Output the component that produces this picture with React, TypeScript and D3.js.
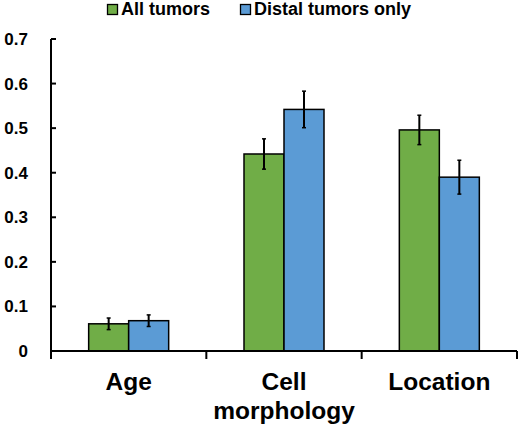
import * as d3 from "d3";

const categories = [["Age"], ["Cell", "morphology"], ["Location"]];
const seriesNames = ["All tumors", "Distal tumors only"];
const seriesColors = ["#70ad47", "#5b9bd5"];
const allTumors = [0.061, 0.442, 0.496];
const allTumorsErr = [0.013, 0.034, 0.033];
const distalTumors = [0.068, 0.542, 0.39];
const distalTumorsErr = [0.013, 0.041, 0.038];
const yTicks = [0, 0.1, 0.2, 0.3, 0.4, 0.5, 0.6, 0.7];

const width = 520;
const height = 427;
const margin = { top: 39, right: 3, bottom: 76, left: 51 };

export default function App() {
  const innerW = width - margin.left - margin.right;
  const innerH = height - margin.top - margin.bottom;

  const x = d3
    .scaleBand<number>()
    .domain(categories.map((_, i) => i))
    .range([0, innerW])
    .paddingInner(0)
    .paddingOuter(0);
  const inner = d3
    .scaleBand<number>()
    .domain([0, 1])
    .range([x.bandwidth() / 2 - 40, x.bandwidth() / 2 + 40]);
  const y = d3.scaleLinear().domain([0, 0.7]).range([innerH, 0]);

  const series = [
    { values: allTumors, errs: allTumorsErr },
    { values: distalTumors, errs: distalTumorsErr },
  ];
  const font = "Arial, 'Liberation Sans', sans-serif";

  return (
    <svg
      width={width}
      height={height}
      style={{ position: "absolute", left: 0, top: 0, background: "#fff" }}
      fontFamily={font}
      fontWeight="bold"
    >
      {/* legend */}
      <g>
        {seriesNames.map((name, i) => {
          const lx = i === 0 ? 107 : 240;
          return (
            <g key={name} transform={`translate(${lx},4)`}>
              <rect x={0.5} y={0.5} width={10} height={10} fill={seriesColors[i]} stroke="#000" strokeWidth={1.3} />
              <text x={14} y={11} fontSize={18} fill="#000">
                {name}
              </text>
            </g>
          );
        })}
      </g>
      <g transform={`translate(${margin.left},${margin.top})`}>
        {series.map((s, si) =>
          s.values.map((v, ci) => {
            const bx = (x(ci) ?? 0) + (inner(si) ?? 0);
            const bw = inner.bandwidth();
            const cx = bx + bw / 2;
            return (
              <g key={`${si}-${ci}`}>
                <rect
                  x={bx}
                  y={y(v)}
                  width={bw}
                  height={innerH - y(v)}
                  fill={seriesColors[si]}
                  stroke="#000"
                  strokeWidth={1.5}
                />
                <line x1={cx} x2={cx} y1={y(v + s.errs[ci])} y2={y(v - s.errs[ci])} stroke="#000" strokeWidth={2} />
                <line x1={cx - 2} x2={cx + 2} y1={y(v + s.errs[ci])} y2={y(v + s.errs[ci])} stroke="#000" strokeWidth={1.5} />
                <line x1={cx - 2} x2={cx + 2} y1={y(v - s.errs[ci])} y2={y(v - s.errs[ci])} stroke="#000" strokeWidth={1.5} />
              </g>
            );
          })
        )}
        {/* y axis */}
        <line x1={0} x2={0} y1={0} y2={innerH} stroke="#000" strokeWidth={2} />
        {yTicks.map((t) => (
          <g key={t} transform={`translate(0,${y(t)})`}>
            <line x1={0} x2={5} stroke="#000" strokeWidth={2} />
            <text x={-23} textAnchor="end" dy="0.35em" fontSize={17} fill="#000">
              {t === 0 ? "0" : t.toFixed(1)}
            </text>
          </g>
        ))}
        {/* x axis */}
        <line x1={0} x2={innerW} y1={innerH} y2={innerH} stroke="#000" strokeWidth={2} />
        {[0, 1, 2, 3].map((i) => {
          const tx = i < 3 ? x(i) ?? 0 : innerW;
          return <line key={i} x1={tx} x2={tx} y1={innerH} y2={innerH + 8} stroke="#000" strokeWidth={2} />;
        })}
        {categories.map((lines, ci) => (
          <text
            key={ci}
            x={(x(ci) ?? 0) + x.bandwidth() / 2}
            y={innerH + 39}
            textAnchor="middle"
            fontSize={24.5}
            fill="#000"
          >
            {lines.map((l, li) => (
              <tspan key={li} x={(x(ci) ?? 0) + x.bandwidth() / 2} dy={li === 0 ? 0 : 28.5}>
                {l}
              </tspan>
            ))}
          </text>
        ))}
      </g>
    </svg>
  );
}
